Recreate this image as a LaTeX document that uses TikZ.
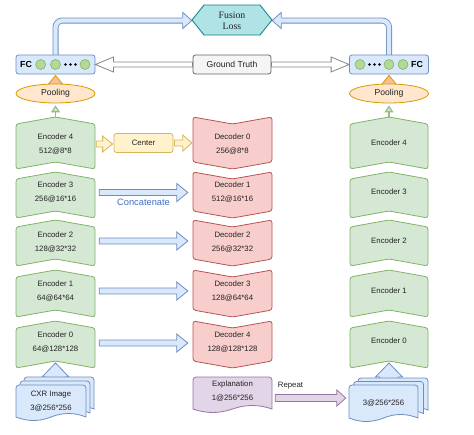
\documentclass[tikz,border=0pt]{standalone}
\usepackage{fontspec}
\setmainfont{Liberation Sans}
\newfontfamily\serifont{Liberation Serif}
\usetikzlibrary{shapes.geometric,calc,arrows.meta}
\definecolor{encF}{HTML}{D5E8D4}\definecolor{encS}{HTML}{82B366}
\definecolor{decF}{HTML}{F8CECC}\definecolor{decS}{HTML}{B85450}
\definecolor{bluF}{HTML}{DAE8FC}\definecolor{bluS}{HTML}{6C8EBF}
\definecolor{yelF}{HTML}{FFF2CC}\definecolor{yelS}{HTML}{D6B656}
\definecolor{oraF}{HTML}{FFE6CC}\definecolor{oraS}{HTML}{D79B00}
\definecolor{oraT}{HTML}{FAC090}
\definecolor{purF}{HTML}{E1D5E7}\definecolor{purS}{HTML}{9673A6}
\definecolor{gryF}{HTML}{F5F5F5}\definecolor{gryS}{HTML}{666666}
\definecolor{tealF}{HTML}{B0E3E6}\definecolor{tealS}{HTML}{0E8088}
\definecolor{ballF}{HTML}{B3D99A}
\definecolor{txt}{HTML}{222222}
\definecolor{concat}{HTML}{3F6FC6}
\pgfdeclarelayer{bg}\pgfsetlayers{bg,main}
% encoder chevron: style, L, R, top peak, bottom sides
\newcommand\encpath[5]{\draw[#1] ({#2},{#4+7}) -- ({(#2+#3)/2},{#4}) -- ({#3},{#4+7}) -- ({#3},{#5}) -- ({(#2+#3)/2},{#5-7}) -- ({#2},{#5}) -- cycle;}
% decoder chevron: style, L, R, top sides, bottom point
\newcommand\decpath[5]{\draw[#1] ({#2},{#4}) -- ({(#2+#3)/2},{#4+7}) -- ({#3},{#4}) -- ({#3},{#5-7}) -- ({(#2+#3)/2},{#5}) -- ({#2},{#5-7}) -- cycle;}
% document with wavy bottom: style, x, y, w, h
\newcommand\docpath[5]{\draw[#1] ({#2},{#3+#5-4}) [rounded corners=3pt] -- ({#2},{#3}) -- ({#2+#4},{#3}) [sharp corners] -- ({#2+#4},{#3+#5-4})
 .. controls ({#2+#4*5/6},{#3+#5-8.67}) and ({#2+#4*4/6},{#3+#5-8.67}) .. ({#2+#4/2},{#3+#5-4})
 .. controls ({#2+#4*2/6},{#3+#5+0.67}) and ({#2+#4/6},{#3+#5+0.67}) .. ({#2},{#3+#5-4}) -- cycle;}
% horizontal flat arrow: style, from, to, shaft half, head half, head length
\newcommand\hflex[6]{\draw[#1] let \p1=(#2), \p2=(#3), \n1={sign(\x2-\x1)} in
 (\x1,{\y1+#4pt}) -- ({\x2-\n1*#6pt},{\y1+#4pt}) -- ({\x2-\n1*#6pt},{\y1+#5pt}) -- (\x2,\y1)
 -- ({\x2-\n1*#6pt},{\y1-#5pt}) -- ({\x2-\n1*#6pt},{\y1-#4pt}) -- (\x1,{\y1-#4pt}) -- cycle;}
\begin{document}
\begin{tikzpicture}[x=1pt,y=-1pt,
 lbl/.style={font=\fontsize{7.8}{14}\selectfont, text=txt, align=center, inner sep=0pt, minimum width=79pt},
 encsh/.style={draw=encS, fill=encF, line width=0.8pt, rounded corners=2.5pt},
 decsh/.style={draw=decS, fill=decF, line width=0.8pt, rounded corners=2.5pt},
 docblu/.style={draw=bluS, fill=bluF, line width=0.8pt},
 docpur/.style={draw=purS, fill=purF, line width=0.8pt},
 bluarrow/.style={draw=bluS, fill=bluF, line width=0.8pt},
 yelarrow/.style={draw=yelS, fill=yelF, line width=0.8pt},
 purarrow/.style={draw=purS, fill=purF, line width=0.8pt},
 gtarrow/.style={draw=gryS!80, fill=white, line width=0.8pt},
 oratri/.style={draw=oraS, fill=oraT, line width=0.8pt},
 dblblue/.style={draw=bluS, line width=0.8pt, double=bluF, double distance=4.4pt},
 fcbox/.style={draw=bluS, fill=bluF, line width=0.8pt, rounded corners=2.5pt, minimum width=79pt, minimum height=19pt, inner sep=0pt},
 ball/.style={circle, draw=encS, fill=ballF, line width=0.6pt, minimum size=10pt, inner sep=0pt},
 dotst/.style={circle, fill=black, minimum size=2.8pt, inner sep=0pt},
 fclbl/.style={font=\fontsize{8.8}{10}\selectfont\bfseries, inner sep=0pt},
 poolst/.style={ellipse, draw=oraS, fill=oraF, line width=0.8pt, minimum width=79pt, minimum height=19pt, inner sep=0pt, font=\fontsize{8.6}{10}\selectfont, text=txt},
 boxst/.style={rounded corners=2.5pt, line width=0.8pt, minimum height=19pt, inner sep=0pt, text=txt},
 greenarr/.style={draw=encS!85, line width=1.2pt, -{Triangle[length=7pt,width=9pt,fill=encF]}},
]
\useasboundingbox (0,0) rectangle (474,434);

% ---------- Fusion loss ----------
\draw[draw=tealS, fill=tealF, line width=0.8pt] (192,20) -- (204,5) -- (260,5) -- (272,20) -- (260,35) -- (204,35) -- cycle;
\node[inner sep=0pt, minimum width=80pt, align=center, text=txt, font=\serifont\fontsize{9.8}{11.2}\selectfont] (fus) at (232,20.5) {Fusion\\Loss};

% ---------- Ground truth ----------
\node[boxst, draw=gryS, fill=gryF, minimum width=78pt, font=\fontsize{8.6}{10}\selectfont] (gt) at (232,64.5) {Ground Truth};

% ---------- FC left ----------
\node[fcbox] (fcL) at (55.5,64.5) {};
\node[fclbl] (fctL) at (26,64.5) {FC};
\node[ball] (c1L) at (40.7,64.5) {};
\node[ball] (c2L) at (55.5,64.5) {};
\node[dotst] (d1L) at (65.5,64.5) {};
\node[dotst] (d2L) at (70.5,64.5) {};
\node[dotst] (d3L) at (75.5,64.5) {};
\node[ball] (c3L) at (85,64.5) {};
% ---------- FC right ----------
\node[fcbox] (fcR) at (389,64.5) {};
\node[ball] (c1R) at (360,64.5) {};
\node[dotst] (d1R) at (369.5,64.5) {};
\node[dotst] (d2R) at (374.5,64.5) {};
\node[dotst] (d3R) at (379.5,64.5) {};
\node[ball] (c2R) at (389,64.5) {};
\node[ball] (c3R) at (403,64.5) {};
\node[fclbl] (fctR) at (417,64.5) {FC};

% ---------- Pooling ----------
\node[poolst] (poolL) at (55.5,93.5) {Pooling};
\node[poolst] (poolR) at (389,93.5) {Pooling};

% ---------- Left encoders ----------
\encpath{encsh}{16}{95}{117}{169}
\encpath{encsh}{16}{95}{172}{218}
\encpath{encsh}{16}{95}{220}{266}
\encpath{encsh}{16}{95}{270}{317}
\encpath{encsh}{16}{95}{321}{368}
\node[lbl] (e4) at (55.5,144) {Encoder 4\\512@8*8};
\node[lbl] (e3) at (55.5,192.5) {Encoder 3\\256@16*16};
\node[lbl] (e2) at (55.5,242) {Encoder 2\\128@32*32};
\node[lbl] (e1) at (55.5,291.5) {Encoder 1\\64@64*64};
\node[lbl] (e0) at (55.5,342) {Encoder 0\\64@128*128};
\coordinate (e4top) at (55.5,117);
\coordinate (e0b) at (55.5,363);

% ---------- Right encoders ----------
\encpath{encsh}{350}{428}{117}{169}
\encpath{encsh}{350}{428}{172}{218}
\encpath{encsh}{350}{428}{220}{266}
\encpath{encsh}{350}{428}{270}{317}
\encpath{encsh}{350}{428}{321}{368}
\node[lbl] (r4) at (389,143) {Encoder 4};
\node[lbl] (r3) at (389,192) {Encoder 3};
\node[lbl] (r2) at (389,241) {Encoder 2};
\node[lbl] (r1) at (389,291) {Encoder 1};
\node[lbl] (r0) at (389,341) {Encoder 0};
\coordinate (r4top) at (389,117);
\coordinate (r0b) at (389,363);

% ---------- Decoders ----------
\decpath{decsh}{193}{272}{117}{169}
\decpath{decsh}{193}{272}{172}{218}
\decpath{decsh}{193}{272}{220}{266}
\decpath{decsh}{193}{272}{270}{317}
\decpath{decsh}{193}{272}{321}{368}
\node[lbl] (d0) at (232.5,144.5) {Decoder 0\\256@8*8};
\node[lbl] (d1) at (232.5,192.5) {Decoder 1\\512@16*16};
\node[lbl] (d2) at (232.5,242.5) {Decoder 2\\256@32*32};
\node[lbl] (d3) at (232.5,291) {Decoder 3\\128@64*64};
\node[lbl] (d4) at (232.5,342) {Decoder 4\\128@128*128};

% ---------- Center ----------
\node[boxst, draw=yelS, fill=yelF, minimum width=59pt, font=\fontsize{7.8}{10}\selectfont] (ctr) at (143.5,143) {Center};

% ---------- CXR left ----------
\docpath{docblu}{24}{377}{70}{36}
\docpath{docblu}{20}{381}{70}{36}
\docpath{docblu}{16}{385}{70}{36}
\node[lbl, minimum width=70pt] (cxrL) at (51,401.5) {CXR Image\\3@256*256};
\coordinate (cxrLtop) at (55.5,386);
% ---------- CXR right ----------
\docpath{docblu}{358}{378}{70}{36}
\docpath{docblu}{353.5}{381.5}{70}{36}
\docpath{docblu}{349}{385}{69}{37}
\node[lbl, minimum width=69pt] (cxrR) at (383.5,403) {3@256*256};
\coordinate (cxrRtop) at (389,386);

% ---------- Explanation ----------
\docpath{docpur}{193}{377}{79}{36}
\node[lbl] (ex) at (232.5,391.5) {Explanation\\1@256*256};

% ---------- labels ----------
\node[inner sep=0pt, text=concat, font=\fontsize{9.3}{10}\selectfont] (lcat) at (143.5,202.5) {Concatenate};
\node[inner sep=0pt, text=txt, font=\fontsize{7.8}{10}\selectfont] (lrep) at (290.5,386) {Repeat};

% ---------- connectors ----------
\hflex{yelarrow}{[xshift=1pt]e4.east}{[xshift=-1pt]ctr.west}{3}{8}{10}
\hflex{yelarrow}{[xshift=1pt]ctr.east}{[xshift=-1pt]d0.west}{3}{8}{9}
\hflex{bluarrow}{[xshift=4pt]e3.east}{[xshift=-5pt]d1.west}{3}{9}{11}
\hflex{bluarrow}{[xshift=4pt,yshift=1pt]e2.east}{[xshift=-5pt]d2.west}{3}{9}{11}
\hflex{bluarrow}{[xshift=4pt,yshift=0.5pt]e1.east}{[xshift=-5pt]d3.west}{3}{9}{11}
\hflex{bluarrow}{[xshift=4pt,yshift=-1pt]e0.east}{[xshift=-5pt]d4.west}{3}{9}{11}
\hflex{purarrow}{[xshift=3pt,yshift=-6.5pt]ex.east}{[xshift=-3pt]cxrR.west}{3.5}{8}{9}
\hflex{gtarrow}{gt.west}{fcL.east}{2.5}{7.5}{18}
\hflex{gtarrow}{gt.east}{fcR.west}{2.5}{7.5}{18}

\begin{pgfonlayer}{bg}
% FC -> fusion loss
\draw[dblblue, rounded corners=7pt] (c2L.center) -- (c2L.center |- fus.west) -- ([xshift=-8.5pt]fus.west);
\draw[bluarrow] let \p2=(fus.west) in ({\x2-9pt},{\y2+3pt}) -- ({\x2-9pt},{\y2+8pt}) -- (\x2,\y2) -- ({\x2-9pt},{\y2-8pt}) -- ({\x2-9pt},{\y2-3pt});
\draw[dblblue, rounded corners=7pt] (c2R.center) -- (c2R.center |- fus.east) -- ([xshift=8.5pt]fus.east);
\draw[bluarrow] let \p2=(fus.east) in ({\x2+9pt},{\y2+3pt}) -- ({\x2+9pt},{\y2+8pt}) -- (\x2,\y2) -- ({\x2+9pt},{\y2-8pt}) -- ({\x2+9pt},{\y2-3pt});
% pooling -> FC
\draw[oratri] let \p1=(poolL.north), \p2=(fcL.south) in ({\x1-7.5pt},{\y1-1pt}) -- (\x1,{\y2-1pt}) -- ({\x1+7.5pt},{\y1-1pt}) -- cycle;
\draw[oratri] let \p1=(poolR.north), \p2=(fcR.south) in ({\x1-7.5pt},{\y1-1pt}) -- (\x1,{\y2-1pt}) -- ({\x1+7.5pt},{\y1-1pt}) -- cycle;
% encoder 4 -> pooling
\draw[greenarr] (e4top) -- ([yshift=-2pt]poolL.south);
\draw[greenarr] (r4top) -- ([yshift=-2pt]poolR.south);
% CXR -> encoder 0
\draw[bluarrow] let \p1=(cxrLtop), \p2=(e0b) in ({\x2-9.5pt},\y1) -- ({\x2-9.5pt},{\y2-14pt}) -- ({\x2-13.5pt},{\y2-14pt}) -- (\x2,\y2) -- ({\x2+13.5pt},{\y2-14pt}) -- ({\x2+9.5pt},{\y2-14pt}) -- ({\x2+9.5pt},\y1) -- cycle;
\draw[bluarrow] let \p1=(cxrRtop), \p2=(r0b) in ({\x2-9.5pt},\y1) -- ({\x2-9.5pt},{\y2-14pt}) -- ({\x2-13.5pt},{\y2-14pt}) -- (\x2,\y2) -- ({\x2+13.5pt},{\y2-14pt}) -- ({\x2+9.5pt},{\y2-14pt}) -- ({\x2+9.5pt},\y1) -- cycle;
\end{pgfonlayer}
\end{tikzpicture}
\end{document}
